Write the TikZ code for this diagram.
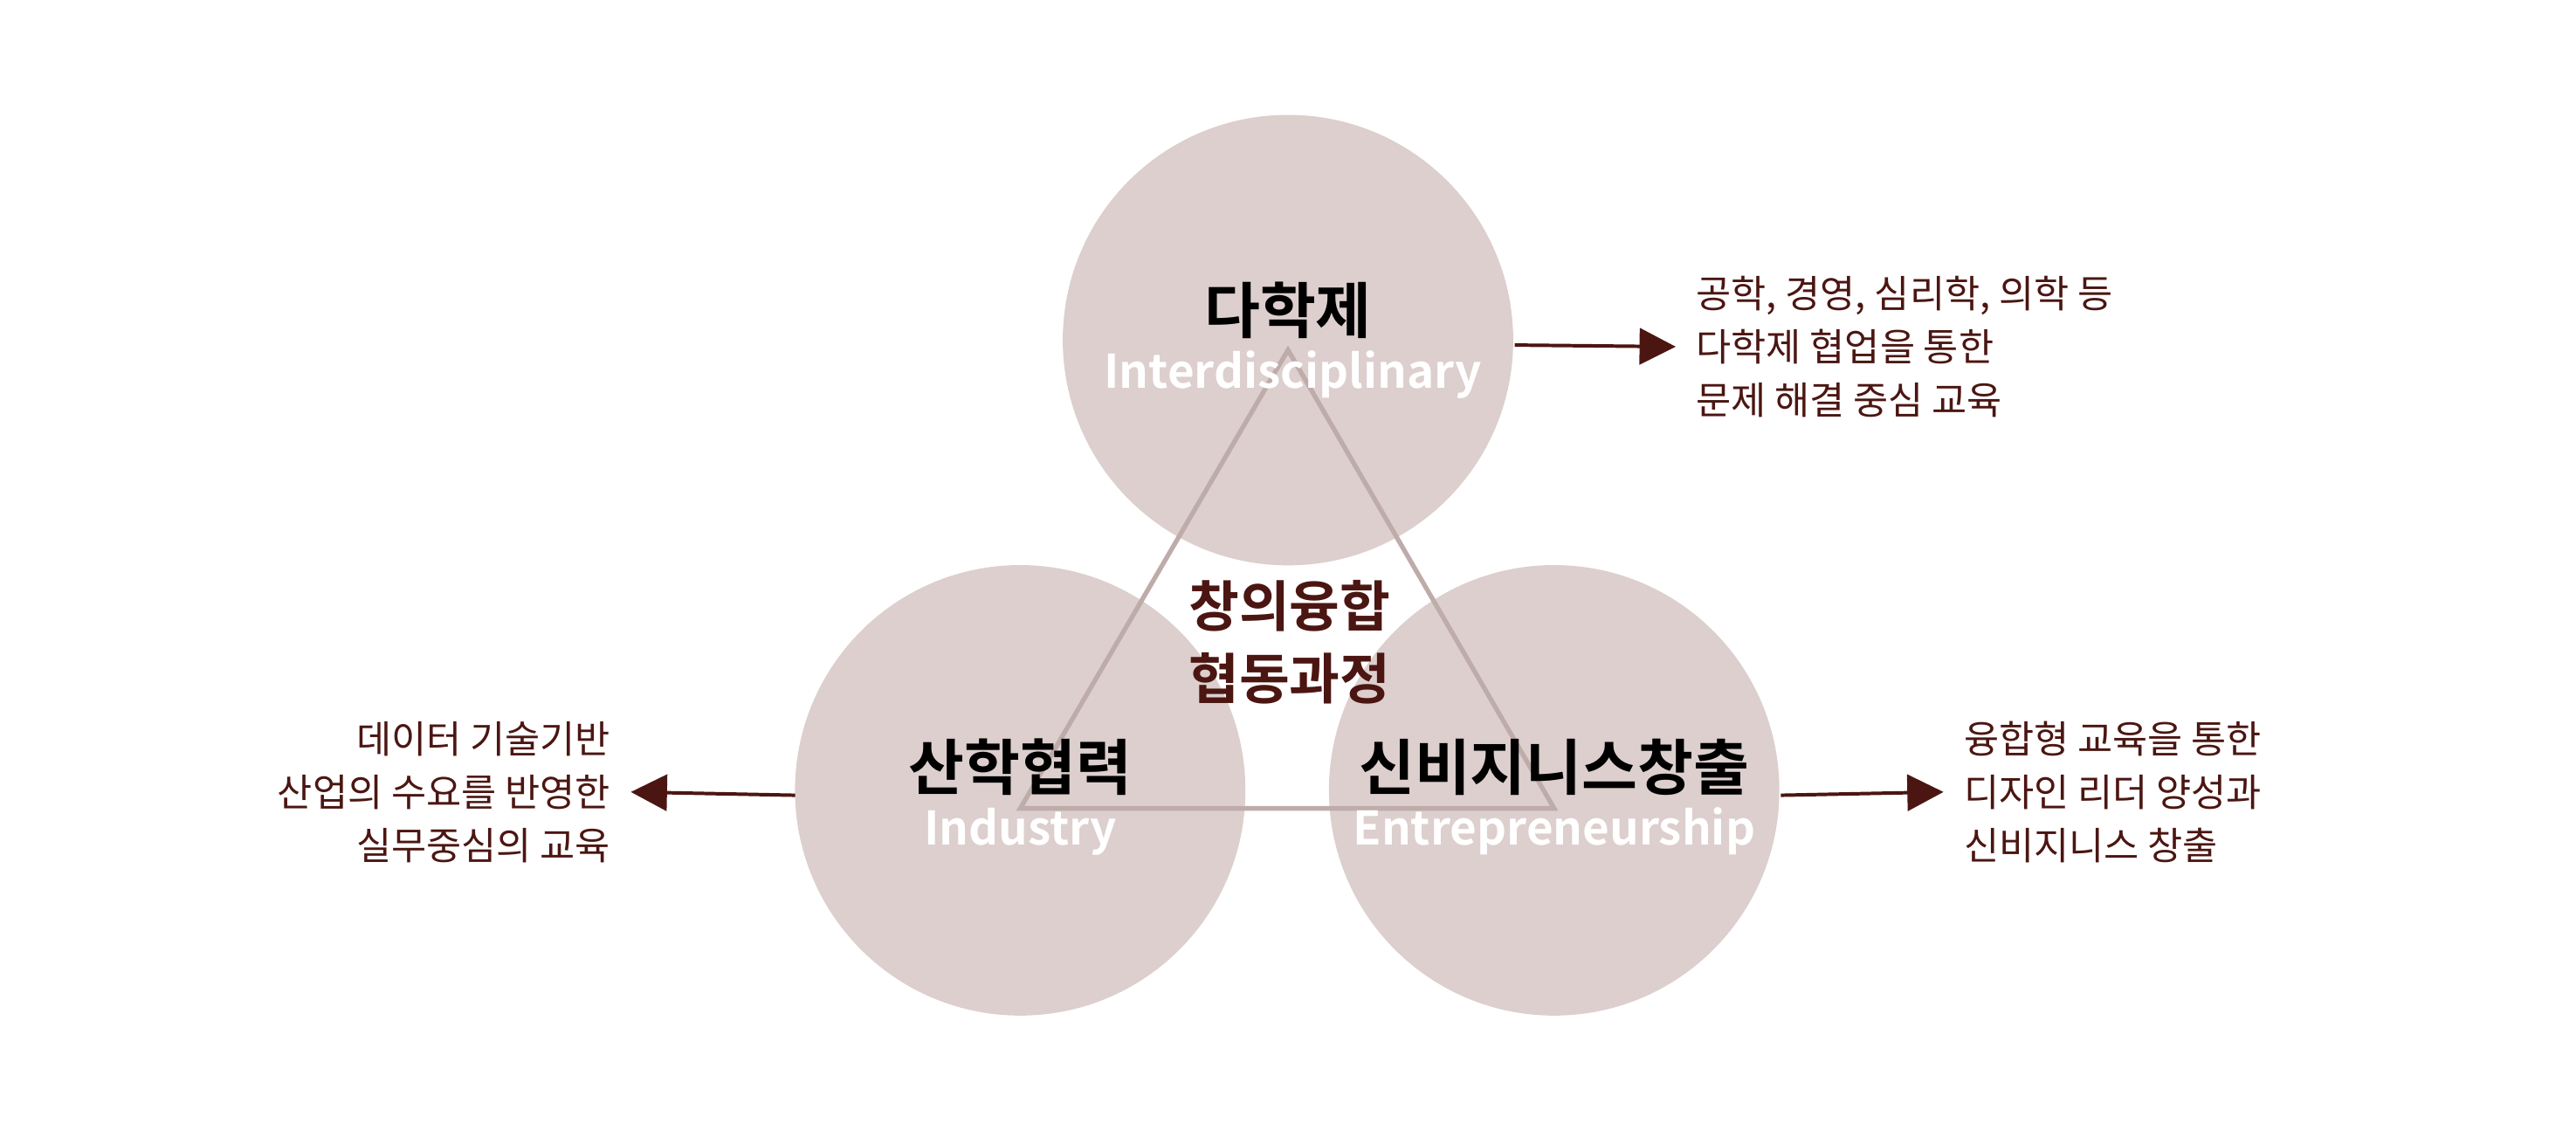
\documentclass[tikz,border=0pt]{standalone}
\usepackage{fontspec}
\setmainfont{Noto Sans CJK KR}
\newfontfamily\krbold{Noto Sans CJK KR Bold}
\usetikzlibrary{arrows.meta,positioning}
\definecolor{circlepink}{RGB}{220,207,205}
\definecolor{triline}{RGB}{190,172,170}
\definecolor{darkbrown}{RGB}{75,22,18}
\begin{document}
\begin{tikzpicture}
  [x=0.01cm,y=-0.01cm,
  bubble/.style={circle, minimum size=2.74cm, fill=circlepink, inner sep=0pt},
  title/.style={font=\krbold\fontsize{10.5}{12}\selectfont, text=black},
  subtitle/.style={font=\krbold\fontsize{8}{9}\selectfont, text=white},
  note/.style={font=\fontsize{6.6}{9.2}\selectfont, text=darkbrown},
  link/.style={draw=darkbrown, line width=0.6pt, -{Triangle[length=2.2mm,width=2.2mm]}}]
  \useasboundingbox (0,0) rectangle (1568,688);
  \node (multi) [bubble] at (784,207) {};
  \node (indus) [bubble] at (621,481) {};
  \node (entre) [bubble] at (946,481) {};

  % triangle
  \coordinate (ta) at (784,213);
  \coordinate (tb) at (621,492);
  \coordinate (tc) at (946,492);
  \draw[triline, line width=0.8pt] (ta) -- (tb) -- (tc) -- cycle;

  \node (multi-kr) [title] at (784,189) {다학제};
  \node (multi-en) [subtitle] at (787,228) {Interdisciplinary};
  \node (indus-kr) [title] at (621,467) {산학협력};
  \node (indus-en) [subtitle] at (621,506) {Industry};
  \node (entre-kr) [title] at (946,467) {신비지니스창출};
  \node (entre-en) [subtitle] at (946,506) {Entrepreneurship};
  \node (center) [font=\krbold\fontsize{9.5}{12.5}\selectfont, text=darkbrown, align=center] at (785,391) {창의융합\\협동과정};

  % notes
  \node (multi-note) [note, align=left, anchor=west] at (1020,211) {공학, 경영, 심리학, 의학 등\\다학제 협업을 통한\\문제 해결 중심 교육};
  \node (indus-note) [note, align=right, anchor=east] at (384,482) {데이터 기술기반\\산업의 수요를 반영한\\실무중심의 교육};
  \node (entre-note) [note, align=left, anchor=west] at (1183,482) {융합형 교육을 통한\\디자인 리더 양성과\\신비지니스 창출};

  \coordinate (multi-out) at (922,210);
  \coordinate (indus-out) at (484,484);
  \coordinate (entre-out) at (1084,484);
  \draw[link] (multi-out) -- (multi-note.west);
  \draw[link] (indus-out) -- (indus-note.east);
  \draw[link] (entre-out) -- (entre-note.west);
\end{tikzpicture}
\end{document}
